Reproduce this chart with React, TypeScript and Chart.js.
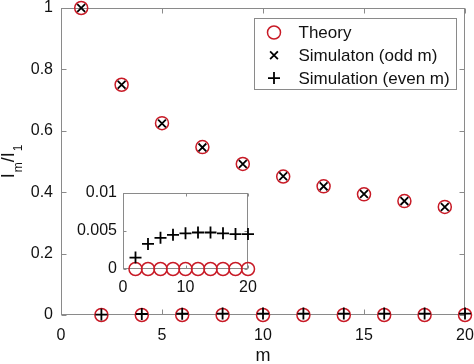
import React, { useEffect, useRef } from "react";
import { Chart, registerables } from "chart.js";
Chart.register(...registerables);

// ---------- data ----------
const oddM = [1, 3, 5, 7, 9, 11, 13, 15, 17, 19];
const evenM = [2, 4, 6, 8, 10, 12, 14, 16, 18, 20];
const theoryOdd = [1, 0.75, 0.625, 0.547, 0.492, 0.451, 0.419, 0.393, 0.371, 0.352];
const theoryEven = [0, 0, 0, 0, 0, 0, 0, 0, 0, 0];
const simOdd = [1, 0.75, 0.624, 0.546, 0.492, 0.452, 0.419, 0.394, 0.371, 0.352];
const simEven = [0.0015, 0.0033, 0.0041, 0.0045, 0.0047, 0.0048, 0.0048, 0.0047, 0.0046, 0.0046];

const mainXTicks = [0, 5, 10, 15, 20];
const mainYTicks = [0, 0.2, 0.4, 0.6, 0.8, 1];
const insetXTicks = [0, 10, 20];
const insetYTicks = [0, 0.005, 0.01];
const legendLabels = ["Theory", "Simulaton (odd m)", "Simulation (even m)"];
const xTitle = "m";

// ---------- styles ----------
const FONT = "'Liberation Sans', Arial, Helvetica, sans-serif";
const RED = "#c81a26";
const BLACK = "#000000";
const AXIS = "#8a8a8a";
const TEXT = "#111111";

const pts = (xs: number[], ys: number[]) => xs.map((x, i) => ({ x, y: ys[i] }));
const fmt = (v: any) => String(+Number(v).toFixed(6));

function drawMarker(ctx: CanvasRenderingContext2D, kind: string, x: number, y: number) {
  ctx.beginPath();
  if (kind === "circle") {
    ctx.strokeStyle = RED;
    ctx.lineWidth = 1.5;
    ctx.arc(x, y, 6.5, 0, Math.PI * 2);
  } else if (kind === "crossRot") {
    ctx.strokeStyle = BLACK;
    ctx.lineWidth = 1.8;
    const r = 5.5 * Math.SQRT1_2;
    ctx.moveTo(x - r, y - r); ctx.lineTo(x + r, y + r);
    ctx.moveTo(x - r, y + r); ctx.lineTo(x + r, y - r);
  } else {
    ctx.strokeStyle = BLACK;
    ctx.lineWidth = 1.8;
    ctx.moveTo(x - 6, y); ctx.lineTo(x + 6, y);
    ctx.moveTo(x, y - 6); ctx.lineTo(x, y + 6);
  }
  ctx.stroke();
}

const boxPlugin = (tickLen: number, xt: number[], yt: number[]) => ({
  id: "box",
  beforeDatasetsDraw(chart: any) {
    const { ctx, chartArea } = chart;
    const { left, right, top, bottom } = chartArea;
    const xs = chart.scales.x, ys = chart.scales.y;
    ctx.save();
    ctx.fillStyle = "#ffffff";
    ctx.fillRect(left, top, right - left, bottom - top);
    ctx.strokeStyle = AXIS;
    ctx.lineWidth = 1;
    const L = Math.round(left) + 0.5, R = Math.round(right) - 0.5;
    const T = Math.round(top) + 0.5, B = Math.round(bottom) - 0.5;
    ctx.strokeRect(L, T, R - L, B - T);
    ctx.beginPath();
    xt.forEach((v) => {
      const px = Math.round(xs.getPixelForValue(v)) + 0.5;
      ctx.moveTo(px, B); ctx.lineTo(px, B - tickLen);
      ctx.moveTo(px, T); ctx.lineTo(px, T + tickLen);
    });
    yt.forEach((v) => {
      const py = Math.round(ys.getPixelForValue(v)) + 0.5;
      ctx.moveTo(L, py); ctx.lineTo(L + tickLen, py);
      ctx.moveTo(R, py); ctx.lineTo(R - tickLen, py);
    });
    ctx.stroke();
    ctx.restore();
  },
});

const mainExtras = {
  id: "mainExtras",
  afterDatasetsDraw(chart: any) {
    const { ctx, chartArea } = chart;
    const { left, right, top, bottom } = chartArea;
    ctx.save();
    // legend
    const w = 202, h = 71;
    const lx = Math.round(right - 9 - w) + 0.5, ly = Math.round(top + 10) + 0.5;
    ctx.fillStyle = "#ffffff";
    ctx.fillRect(lx, ly, w, h);
    ctx.strokeStyle = AXIS;
    ctx.lineWidth = 1;
    ctx.strokeRect(lx, ly, w, h);
    const kinds = ["circle", "crossRot", "cross"];
    ctx.font = `17px ${FONT}`;
    ctx.textBaseline = "middle";
    ctx.textAlign = "left";
    legendLabels.forEach((lab, i) => {
      const cy = ly + 14 + i * 22.8;
      drawMarker(ctx, kinds[i], lx + 19.5, cy);
      ctx.fillStyle = TEXT;
      ctx.fillText(lab, lx + 44, cy + 1);
    });
    // x title
    ctx.fillStyle = TEXT;
    ctx.font = `18px ${FONT}`;
    ctx.textAlign = "center";
    ctx.textBaseline = "alphabetic";
    ctx.fillText(xTitle, (left + right) / 2, 361);
    // y title  I_m / I_1
    const segs: [string, boolean][] = [["I", false], ["m", true], ["/I", false], ["1", true]];
    const bigF = `18px ${FONT}`, subF = `12px ${FONT}`;
    let total = 0;
    segs.forEach(([s, sub]) => { ctx.font = sub ? subF : bigF; total += ctx.measureText(s).width + (sub ? 1 : 0); });
    ctx.translate(14, (top + bottom) / 2);
    ctx.rotate(-Math.PI / 2);
    ctx.textAlign = "left";
    let cx = -total / 2;
    segs.forEach(([s, sub]) => {
      ctx.font = sub ? subF : bigF;
      if (sub) cx += 1;
      ctx.fillText(s, cx, sub ? 8 : 0);
      cx += ctx.measureText(s).width;
    });
    ctx.restore();
  },
};

const noPad = (s: any) => {
  s.paddingTop = 0; s.paddingBottom = 0; s.paddingLeft = 0; s.paddingRight = 0;
};

function makeScales(
  xt: number[], yt: number[], xMax: number, yMax: number,
  yWidth: number, xHeight: number, xPad: number, yPad: number, fontSize: number
) {
  const font = { family: FONT, size: fontSize };
  return {
    x: {
      type: "linear",
      min: 0,
      max: xMax,
      grid: { display: false, drawTicks: false },
      border: { display: false },
      afterBuildTicks: (s: any) => { s.ticks = xt.map((v) => ({ value: v })); },
      afterFit: (s: any) => { s.height = xHeight; noPad(s); },
      ticks: { color: TEXT, font, padding: xPad, maxRotation: 0, autoSkip: false, callback: fmt },
    },
    y: {
      type: "linear",
      min: 0,
      max: yMax,
      grid: { display: false, drawTicks: false },
      border: { display: false },
      afterBuildTicks: (s: any) => { s.ticks = yt.map((v) => ({ value: v })); },
      afterFit: (s: any) => { s.width = yWidth; noPad(s); },
      ticks: { color: TEXT, font, padding: yPad, autoSkip: false, callback: fmt },
    },
  };
}

const theoryStyle = {
  pointStyle: "circle",
  pointRadius: 6.5,
  pointBorderWidth: 1.5,
  pointBorderColor: RED,
  pointBackgroundColor: "rgba(0,0,0,0)",
  showLine: false,
  clip: false,
  order: 2,
};
const oddStyle = {
  pointStyle: "crossRot",
  pointRadius: 5.5,
  pointBorderWidth: 1.8,
  pointBorderColor: BLACK,
  pointBackgroundColor: BLACK,
  showLine: false,
  clip: false,
  order: 1,
};
const evenStyle = {
  pointStyle: "cross",
  pointRadius: 6,
  pointBorderWidth: 1.8,
  pointBorderColor: BLACK,
  pointBackgroundColor: BLACK,
  showLine: false,
  clip: false,
  order: 0,
};

export default function App() {
  const mainRef = useRef<HTMLCanvasElement>(null);
  const insetRef = useRef<HTMLCanvasElement>(null);

  useEffect(() => {
    const main = new Chart(mainRef.current as HTMLCanvasElement, {
      type: "scatter",
      data: {
        datasets: [
          { label: legendLabels[0], data: [...pts(oddM, theoryOdd), ...pts(evenM, theoryEven)], ...theoryStyle },
          { label: legendLabels[1], data: pts(oddM, simOdd), ...oddStyle },
          { label: legendLabels[2], data: pts(evenM, simEven), ...evenStyle },
        ] as any,
      },
      options: {
        responsive: false,
        animation: false,
        devicePixelRatio: 1,
        events: [],
        layout: { padding: { left: 0, top: 7, right: 9, bottom: 0 } },
        plugins: { legend: { display: false }, tooltip: { enabled: false } },
        scales: makeScales(mainXTicks, mainYTicks, 20, 1, 61, 49, 11, 8, 16) as any,
      },
      plugins: [boxPlugin(5, mainXTicks, mainYTicks), mainExtras],
    });

    const inset = new Chart(insetRef.current as HTMLCanvasElement, {
      type: "scatter",
      data: {
        datasets: [
          { label: legendLabels[0], data: pts(evenM, theoryEven), ...theoryStyle },
          { label: legendLabels[2], data: pts(evenM, simEven), ...evenStyle },
        ] as any,
      },
      options: {
        responsive: false,
        animation: false,
        devicePixelRatio: 1,
        events: [],
        layout: { padding: { left: 0, top: 13, right: 17, bottom: 0 } },
        plugins: { legend: { display: false }, tooltip: { enabled: false } },
        scales: makeScales(insetXTicks, insetYTicks, 20, 0.01, 63, 31, 9, 6, 16) as any,
      },
      plugins: [boxPlugin(3, insetXTicks, insetYTicks)],
    });

    return () => {
      main.destroy();
      inset.destroy();
    };
  }, []);

  return (
    <div style={{ position: "fixed", left: 0, top: 0, width: 474, height: 364, background: "#ffffff" }}>
      <canvas ref={mainRef} width={474} height={364} style={{ position: "absolute", left: 0, top: 0 }} />
      <canvas ref={insetRef} width={205} height={120} style={{ position: "absolute", left: 60, top: 180 }} />
    </div>
  );
}
